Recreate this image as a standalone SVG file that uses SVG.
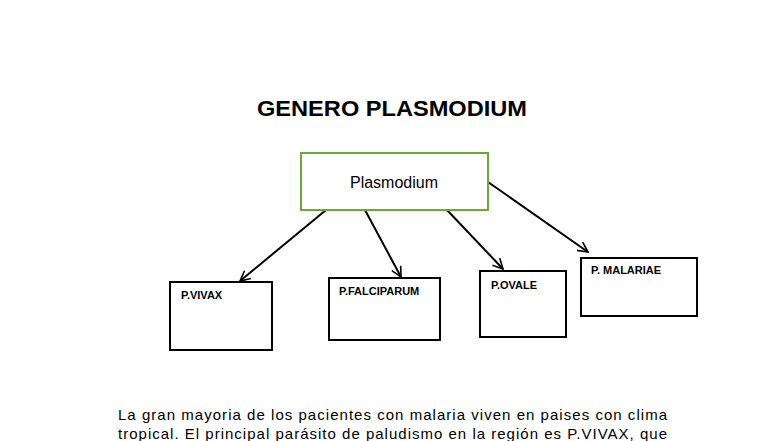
<svg xmlns="http://www.w3.org/2000/svg" width="784" height="441" viewBox="0 0 784 441">
<defs>
<style>
.box{fill:#fff;stroke:#000;stroke-width:2}
.lbl{font-family:"Liberation Sans",Arial,sans-serif;font-size:11px;font-weight:bold;fill:#000}
.conn{stroke:#000;stroke-width:2;fill:none;marker-end:url(#arr)}
.para{font-family:"Liberation Sans",Arial,sans-serif;font-size:15px;fill:#000}
</style>
<marker id="arr" viewBox="0 0 12 12" refX="11" refY="6" markerWidth="6" markerHeight="6" orient="auto" markerUnits="strokeWidth">
<path d="M1,1 L11,6 L1,11" fill="none" stroke="#000" stroke-width="1.6"/>
</marker>
</defs>
<rect width="784" height="441" fill="#fff"/>
<text x="392" y="116" text-anchor="middle" font-family="'Liberation Sans',Arial,sans-serif" font-size="22" font-weight="bold" textLength="270" lengthAdjust="spacingAndGlyphs">GENERO PLASMODIUM</text>
<g id="connectors">
<line class="conn" x1="326" y1="210" x2="240" y2="281"/>
<line class="conn" x1="365" y1="210" x2="401" y2="277"/>
<line class="conn" x1="447" y1="210" x2="503" y2="269"/>
<line class="conn" x1="488" y1="182" x2="588" y2="252"/>
</g>
<g id="plasmodium">
<rect x="301" y="153" width="187" height="57" fill="#fff" stroke="#6aaa3a" stroke-width="2"/>
<text x="394" y="188" text-anchor="middle" font-family="'Liberation Sans',Arial,sans-serif" font-size="16">Plasmodium</text>
</g>
<g id="vivax">
<rect class="box" x="170" y="282" width="102" height="68"/>
<text class="lbl" x="181" y="299">P.VIVAX</text>
</g>
<g id="falciparum">
<rect class="box" x="329" y="278" width="111" height="62"/>
<text class="lbl" x="339" y="295">P.FALCIPARUM</text>
</g>
<g id="ovale">
<rect class="box" x="480" y="271" width="86" height="66"/>
<text class="lbl" x="491" y="289">P.OVALE</text>
</g>
<g id="malariae">
<rect class="box" x="581" y="258" width="116" height="58"/>
<text class="lbl" x="591" y="274">P. MALARIAE</text>
</g>
<text class="para" x="118" y="420" textLength="549" lengthAdjust="spacing">La gran mayoria de los pacientes con malaria viven en paises con clima</text>
<text class="para" x="118" y="439" textLength="549" lengthAdjust="spacing">tropical. El principal parásito de paludismo en la región es P.VIVAX, que</text>
</svg>
